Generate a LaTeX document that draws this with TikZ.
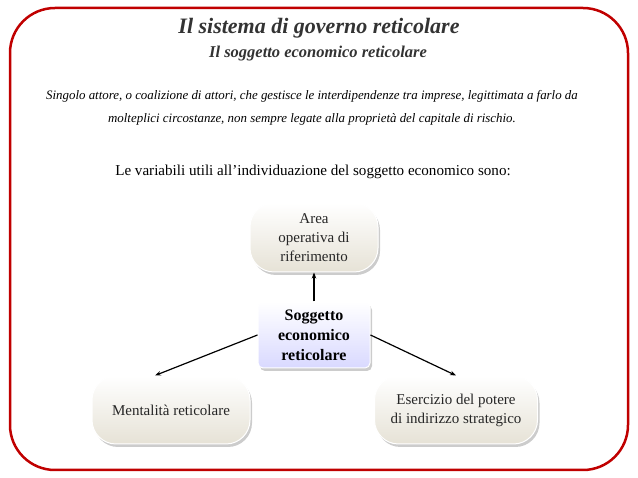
\documentclass[tikz,border=0pt]{standalone}
\usepackage{fontspec}
\setmainfont{Liberation Serif}
\usetikzlibrary{shadows,arrows.meta}
\definecolor{frame}{HTML}{C00000}
\definecolor{beige}{HTML}{E6E2D6}
\tikzset{
 pill/.style={draw=white,line width=1pt,rounded corners=24pt,top color=white,bottom color=beige,drop shadow={opacity=0.4,shadow xshift=2pt,shadow yshift=-3pt},align=center,font=\fontsize{15}{19}\selectfont,text=black!85},
 center/.style={draw=white,line width=1pt,rounded corners=5pt,top color=white,bottom color=blue!15!white,drop shadow={opacity=0.4,shadow xshift=2pt,shadow yshift=-3pt},align=center,font=\bfseries\fontsize{16}{20}\selectfont},
 conn/.style={line width=1.2pt,-{Stealth[length=6pt]}}
}
\begin{document}
\begin{tikzpicture}[x=1pt,y=-1pt]
\useasboundingbox (0,0) rectangle (638,478);
\draw[frame,line width=2.5pt,rounded corners=45pt] (10,8) rectangle (628,470);
\node[font=\bfseries\itshape\fontsize{22}{26}\selectfont,text=black!80] at (319,28) {Il sistema di governo reticolare};
\node[font=\bfseries\itshape\fontsize{16.5}{20}\selectfont,text=black!80] at (318,54) {Il soggetto economico reticolare};
\node[font=\itshape\fontsize{12.9}{23}\selectfont,align=center] at (312,108) {Singolo attore, o coalizione di attori, che gestisce le interdipendenze tra imprese, legittimata a farlo da\\molteplici circostanze, non sempre legate alla propriet\`a del capitale di rischio.};
\node[font=\fontsize{15.1}{18}\selectfont] at (313,172) {Le variabili utili all’individuazione del soggetto economico sono:};
\node[pill,minimum width=128pt,minimum height=69pt] (area) at (314,237.5) {Area\\operativa di\\riferimento};
\node[center,minimum width=112pt,minimum height=66pt] (sog) at (314,335) {Soggetto\\economico\\reticolare};
\node[pill,minimum width=158pt,minimum height=68pt] (ment) at (171,410) {Mentalit\`a reticolare};
\node[pill,minimum width=163pt,minimum height=68pt] (ese) at (456,410) {Esercizio del potere\\di indirizzo strategico};
\draw[conn] (sog.north) -- (area.south);
\draw[conn] (sog.west) -- (ment.north -| 155,0);
\draw[conn] (sog.east) -- (ese.north);
\end{tikzpicture}
\end{document}
